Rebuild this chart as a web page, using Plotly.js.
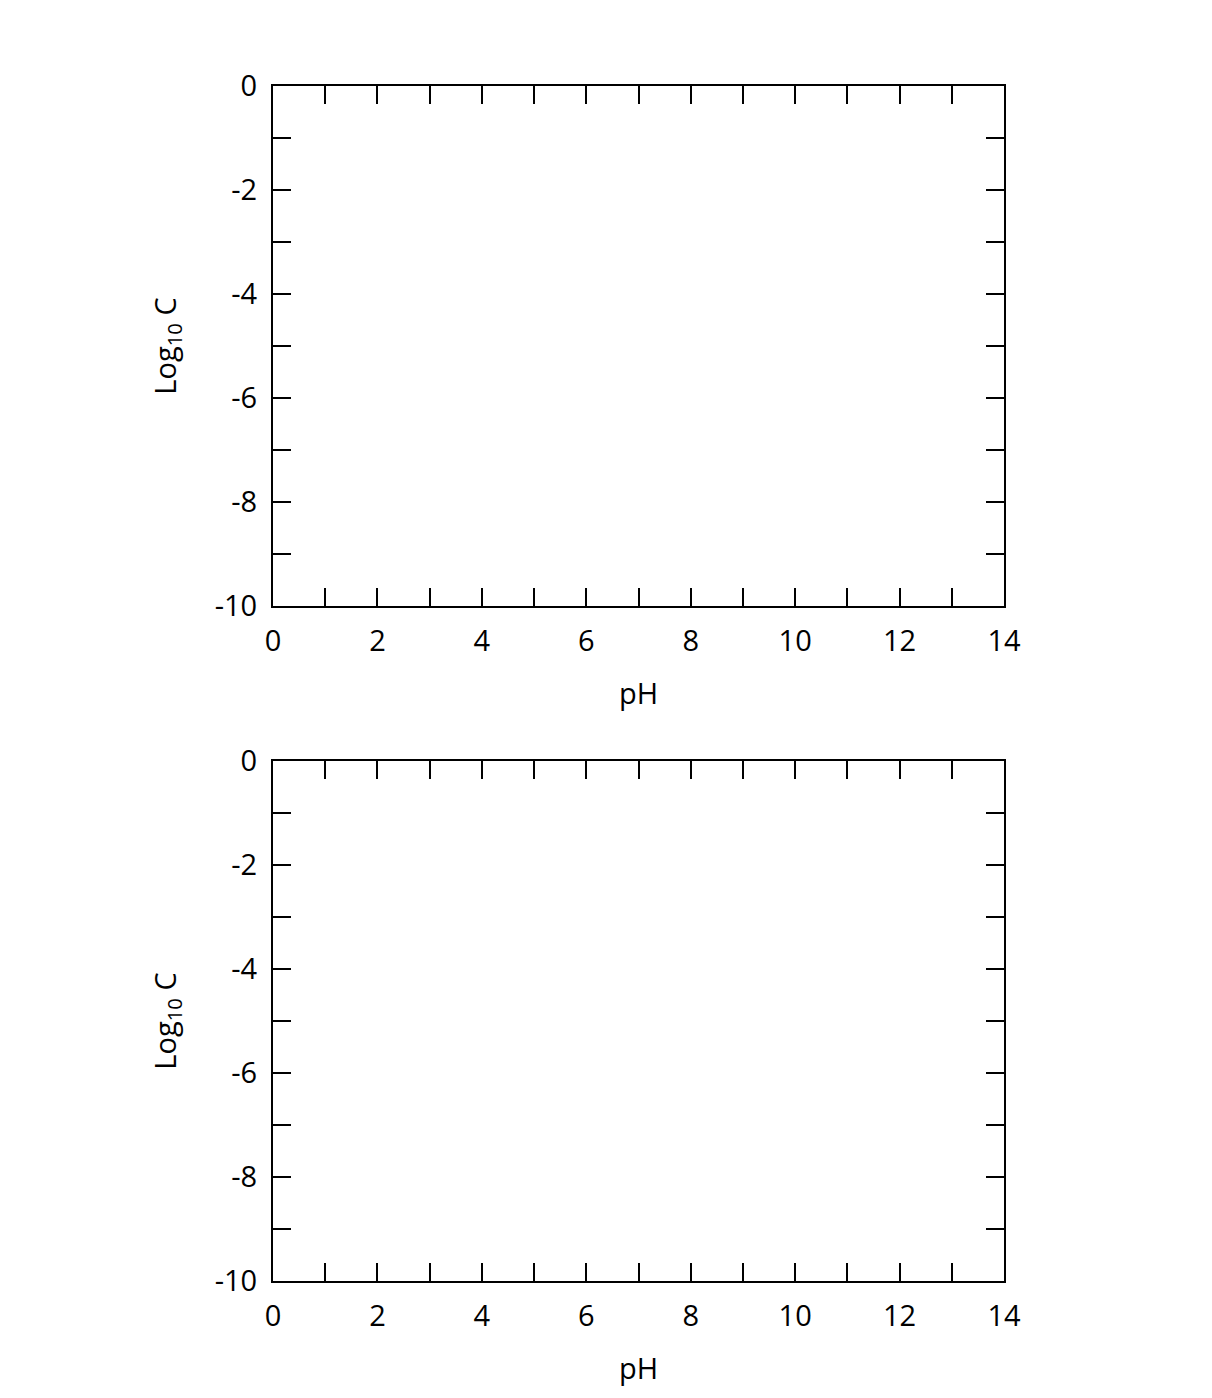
<!DOCTYPE html>
<html>
<head>
<meta charset="utf-8">
<script src="https://cdn.plot.ly/plotly-3.0.1.min.js"></script>
<style>
  html, body { margin: 0; padding: 0; background: #fff; }
  #chart { width: 1212px; height: 1398px; }
</style>
</head>
<body>
<div id="chart"></div>
<script>
// axis ticks (two empty pH / log C frames)
const phTickVals = [0, 2, 4, 6, 8, 10, 12, 14];
const phTickText = ['0', '2', '4', '6', '8', '10', '12', '14'];
const phMinorVals = [1, 3, 5, 7, 9, 11, 13];
const logTickVals = [0, -2, -4, -6, -8, -10];
const logTickText = ['0', '-2', '-4', '-6', '-8', '-10'];
const logMinorVals = [-1, -3, -5, -7, -9];
const phRange = [0, 14];
const logRange = [-10, 0];

const W = 1212, H = 1398;
const font = { family: 'Open Sans, Noto Sans, sans-serif', size: 29, color: '#000' };

const tickStyle = { ticks: 'inside', ticklen: 18, tickwidth: 2, tickcolor: '#000' };

const xAxis = (anchor) => ({
  domain: [273 / W, 1004 / W],
  anchor: anchor,
  range: phRange,
  tickmode: 'array',
  tickvals: phTickVals,
  ticktext: phTickText,
  ...tickStyle,
  minor: { tickmode: 'array', tickvals: phMinorVals, ...tickStyle },
  showline: true,
  linewidth: 2,
  linecolor: '#000',
  mirror: 'ticks',
  showgrid: false,
  zeroline: false,
  tickfont: font,
  ticklabelstandoff: 8,
  title: { text: 'pH', font: font, standoff: 26 }
});

const yAxis = (domainY, anchor) => ({
  domain: domainY,
  anchor: anchor,
  range: logRange,
  tickmode: 'array',
  tickvals: logTickVals,
  ticktext: logTickText,
  ...tickStyle,
  minor: { tickmode: 'array', tickvals: logMinorVals, ...tickStyle },
  showline: true,
  linewidth: 2,
  linecolor: '#000',
  mirror: 'ticks',
  showgrid: false,
  zeroline: false,
  tickfont: font,
  ticklabelstandoff: 8,
  title: { text: 'Log<sub>10</sub> C', font: font, standoff: 30 }
});

const topDomain = [1 - 606 / H, 1 - 86 / H];
const botDomain = [1 - 1281 / H, 1 - 761 / H];

const traces = [
  { x: [], y: [], xaxis: 'x', yaxis: 'y', mode: 'lines', showlegend: false },
  { x: [], y: [], xaxis: 'x2', yaxis: 'y2', mode: 'lines', showlegend: false }
];

const layout = {
  width: W,
  height: H,
  margin: { l: 0, r: 0, t: 0, b: 0 },
  paper_bgcolor: '#fff',
  plot_bgcolor: '#fff',
  showlegend: false,
  font: font,
  xaxis: xAxis('y'),
  yaxis: yAxis(topDomain, 'x'),
  xaxis2: xAxis('y2'),
  yaxis2: yAxis(botDomain, 'x2')
};

Plotly.newPlot('chart', traces, layout, { staticPlot: true, displayModeBar: false });
</script>
</body>
</html>
